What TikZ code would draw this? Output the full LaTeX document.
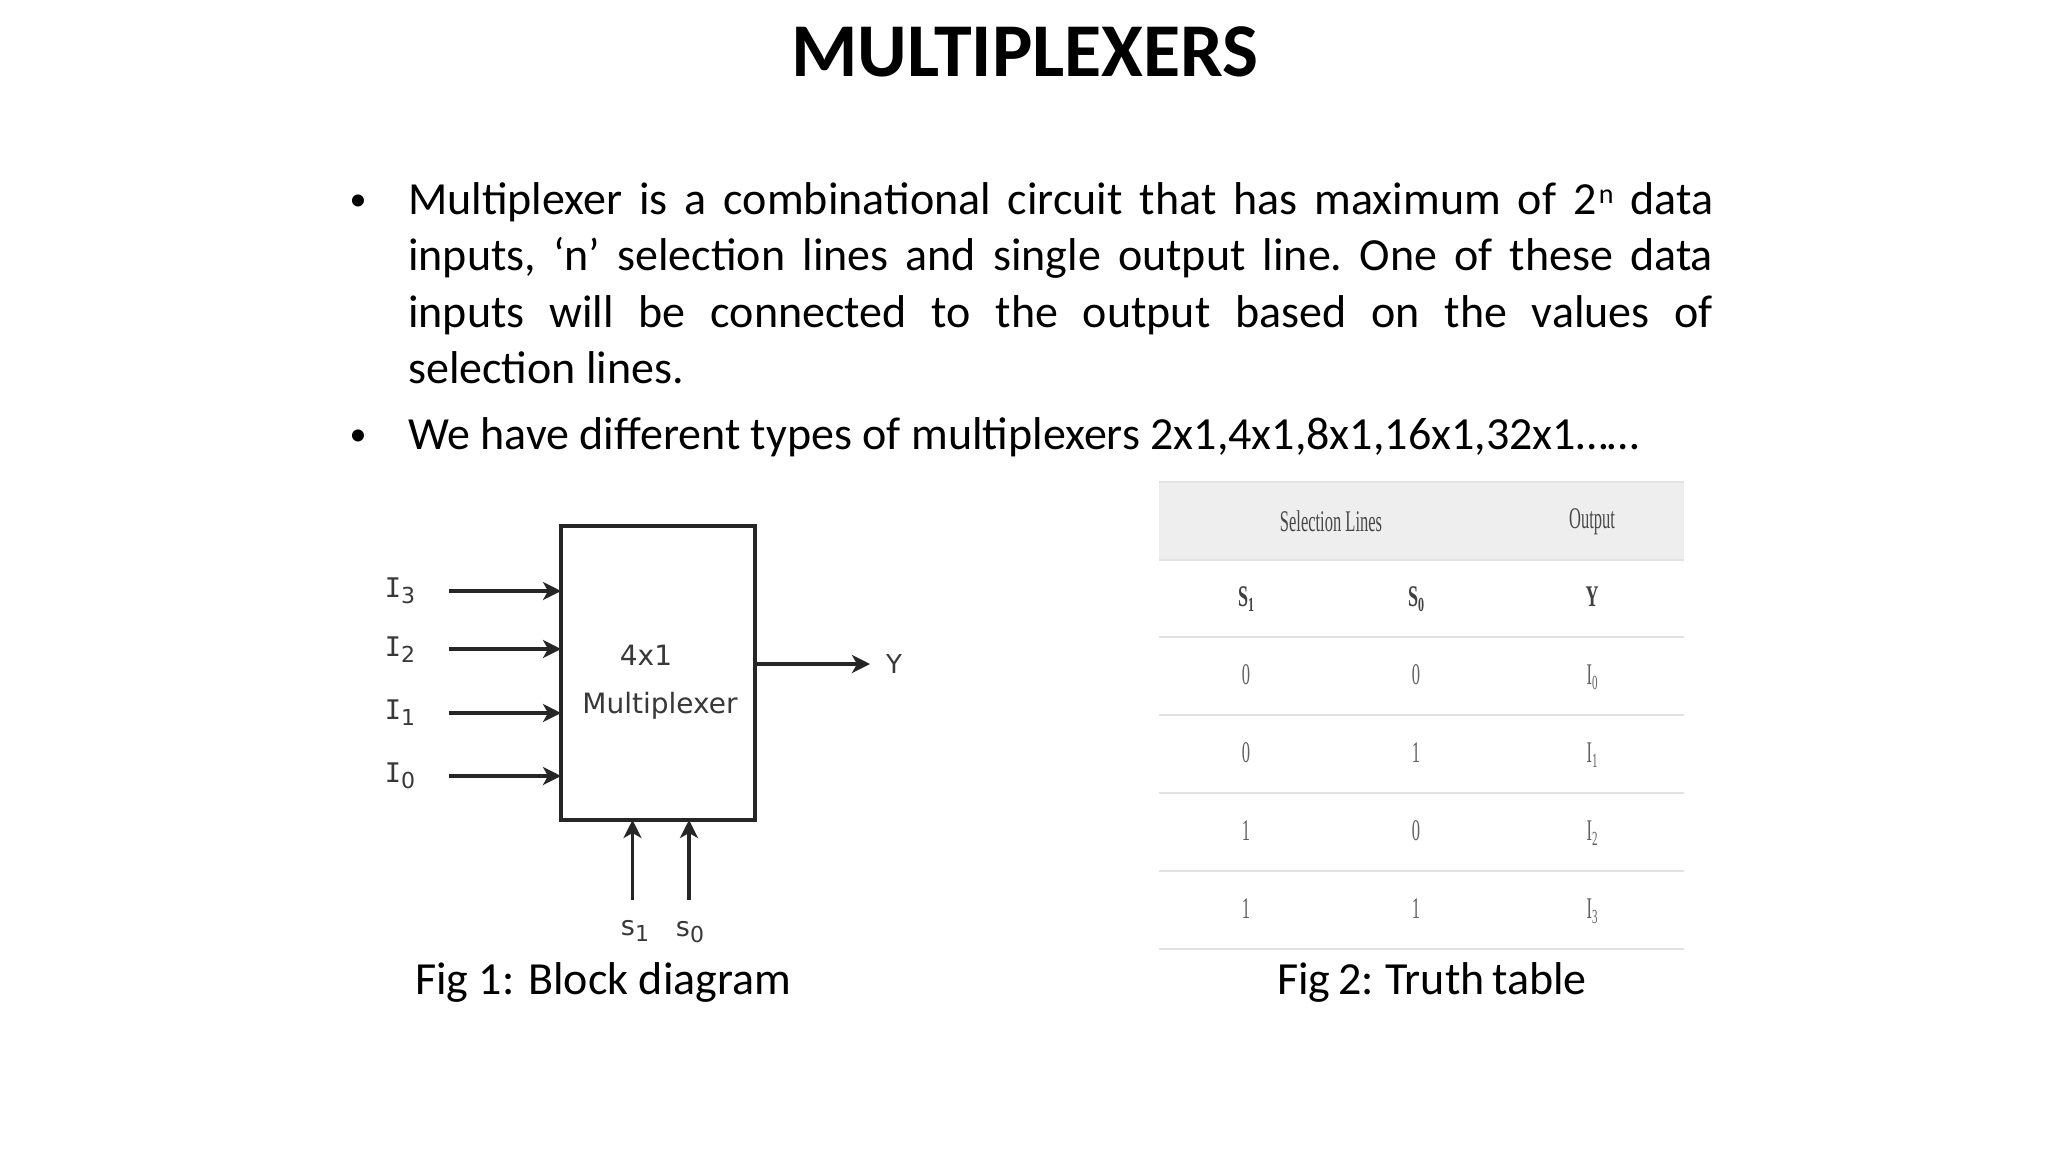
\documentclass[tikz,border=0pt]{standalone}
\usepackage{fontspec}
\setmainfont{Carlito}
\newfontfamily\dvs{DejaVu Sans}
\newfontfamily\dvm{DejaVu Sans Mono}
\newfontfamily\lser{Liberation Serif}
\usetikzlibrary{arrows.meta}
\newcommand{\fsz}[1]{\fontsize{#1}{#1}\selectfont}
\newcommand{\inlab}[2]{{\dvm\fsz{27}#1}\raisebox{-6pt}{\dvs\fsz{22}#2}}
\newcommand{\tsub}[2]{#1\raisebox{-5pt}{\fsz{20}#2}}
\definecolor{labgray}{HTML}{383838}
\definecolor{cellgray}{HTML}{606060}
\definecolor{headgray}{HTML}{484848}
\definecolor{rulegray}{HTML}{E2E2E2}
\definecolor{headfill}{HTML}{EEEEEE}
\tikzset{
  titlebox/.style={inner sep=0pt,font=\bfseries\fsz{76}},
  bodytext/.style={inner sep=0pt,anchor=north west,text width=1305pt,align=justify,font=\fsz{46}},
  singleline/.style={inner sep=0pt,anchor=base west,font=\fsz{46}},
  bulletmark/.style={inner sep=0pt,font=\fsz{34}},
  captiontext/.style={inner sep=0pt,anchor=base west,font=\fsz{46}},
  muxbox/.style={draw=black!85,line width=3.5pt,minimum width=194pt,minimum height=294pt,inner sep=0pt,outer sep=0pt},
  muxtext/.style={inner sep=0pt,text=labgray,font=\dvs\fsz{28}},
  sig/.style={inner sep=0pt,text=labgray},
  wire/.style={line width=3.5pt,draw=black!85,-{Stealth[length=18pt,width=18pt,inset=5pt]}},
  cell/.style={inner sep=0pt,xscale=.55,text=cellgray,font=\lser\fsz{30}},
  headcell/.style={inner sep=0pt,xscale=.55,text=headgray,font=\lser\fsz{30}},
  colhead/.style={inner sep=0pt,xscale=.6,text=black!75,font=\lser\bfseries\fsz{30}},
  hrule/.style={line width=2pt,draw=rulegray}
}
\begin{document}
\begin{tikzpicture}[x=1pt,y=-1pt]
\path[use as bounding box,fill=white] (0,0) rectangle (2048,1152);
% title
\node[titlebox] (title) at (1025,52) {MULTIPLEXERS};
% bullets
\node[bulletmark] (b1) at (358,203) {•};
\node[bulletmark] (b2) at (358,438) {•};
\node[bodytext,text width=1305pt] (para) at (408,182) {\baselineskip=56.6pt\hyphenpenalty=10000\frenchspacing
Multiplexer is a combinational circuit that has maximum of 2\hspace{2pt}\raisebox{11pt}{\fsz{28}n} data\linebreak
inputs, ‘n’ selection lines and single output line. One of these data\linebreak
inputs will be connected to the output based on the values of\linebreak
selection lines.\par};
\node[singleline] (line2) at (408,449) {We have different types of multiplexers 2x1,4x1,8x1,16x1,32x1……};
% block diagram
\node[muxbox] (box) at (658,673) {};
\node[muxtext] (t4x1) at (646,655) {4x1};
\node[muxtext] (tmux) at (660,706) {Multiplexer};
\node[sig] (i3) at (400,591) {\inlab{I}{3}};
\node[sig] (i2) at (400,650) {\inlab{I}{2}};
\node[sig] (i1) at (400,713) {\inlab{I}{1}};
\node[sig] (i0) at (400,776) {\inlab{I}{0}};
\node[sig,font=\dvs\fsz{26}] (y) at (894,664) {Y};
\node[sig] (s1) at (635,931) {{\dvs\fsz{27}s}\raisebox{-6pt}{\dvs\fsz{22}1}};
\node[sig] (s0) at (690,932) {{\dvs\fsz{27}s}\raisebox{-6pt}{\dvs\fsz{22}0}};
\coordinate (a3) at (449,591);
\coordinate (a2) at (449,649);
\coordinate (a1) at (449,713);
\coordinate (a0) at (449,776);
\coordinate (ayend) at (870,664);
\coordinate (as1) at (632.5,900);
\coordinate (as0) at (689,900);
\draw[wire] (a3) -- (a3 -| box.west);
\draw[wire] (a2) -- (a2 -| box.west);
\draw[wire] (a1) -- (a1 -| box.west);
\draw[wire] (a0) -- (a0 -| box.west);
\draw[wire] (box.east |- ayend) -- (ayend);
\draw[wire] (as1) -- (as1 |- box.south);
\draw[wire] (as0) -- (as0 |- box.south);
\node[captiontext] (cap1) at (415,994) {Fig 1: Block diagram};
% truth table
\fill[headfill] (1159,482) rectangle (1684,560);
\coordinate (tl) at (1159,482);
\coordinate (tr) at (1684,482);
\coordinate (r1l) at (1159,560);
\coordinate (r1r) at (1684,560);
\coordinate (r2l) at (1159,637);
\coordinate (r2r) at (1684,637);
\coordinate (r3l) at (1159,715);
\coordinate (r3r) at (1684,715);
\coordinate (r4l) at (1159,793);
\coordinate (r4r) at (1684,793);
\coordinate (r5l) at (1159,871);
\coordinate (r5r) at (1684,871);
\coordinate (r6l) at (1159,949);
\coordinate (r6r) at (1684,949);
\draw[hrule] (tl) -- (tr);
\draw[hrule] (r1l) -- (r1r);
\draw[hrule] (r2l) -- (r2r);
\draw[hrule] (r3l) -- (r3r);
\draw[hrule] (r4l) -- (r4r);
\draw[hrule] (r5l) -- (r5r);
\draw[hrule] (r6l) -- (r6r);
\node[headcell] (hsel) at (1331,521) {Selection Lines};
\node[headcell] (hout) at (1592,522) {Output};
\node[colhead] (cs1) at (1246,599) {\tsub{S}{1}};
\node[colhead] (cs0) at (1416,599) {\tsub{S}{0}};
\node[colhead] (cy) at (1592,597) {Y};
\node[cell] (c11) at (1246,675) {0};
\node[cell] (c12) at (1416,675) {0};
\node[cell] (c13) at (1592,677) {\tsub{I}{0}};
\node[cell] (c21) at (1246,753) {0};
\node[cell] (c22) at (1416,753) {1};
\node[cell] (c23) at (1592,755) {\tsub{I}{1}};
\node[cell] (c31) at (1246,831) {1};
\node[cell] (c32) at (1416,831) {0};
\node[cell] (c33) at (1592,833) {\tsub{I}{2}};
\node[cell] (c41) at (1246,909) {1};
\node[cell] (c42) at (1416,909) {1};
\node[cell] (c43) at (1592,911) {\tsub{I}{3}};
\node[captiontext] (cap2) at (1277,994) {\spaceskip=7.8pt Fig 2: Truth table};
\end{tikzpicture}
\end{document}
